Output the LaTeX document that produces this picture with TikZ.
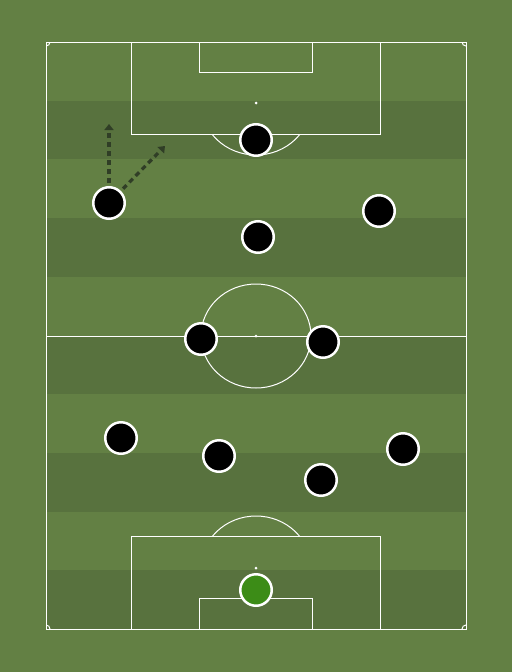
\documentclass[tikz,border=0pt]{standalone}
\usetikzlibrary{arrows.meta}
\definecolor{grasslight}{RGB}{99,128,68}
\definecolor{grassdark}{RGB}{88,114,62}
\definecolor{keeper}{RGB}{60,140,23}
\definecolor{runline}{RGB}{48,62,38}
\tikzstyle{pitchline} = [draw=white, line width=1pt]
\tikzstyle{spot} = [fill=white]
\tikzstyle{player} = [circle, fill=black, draw=white, line width=2.5pt, minimum size=31.5pt, inner sep=0pt]
\tikzstyle{goalie} = [player, fill=keeper]
\tikzstyle{run} = [line width=3.3pt, draw=runline, dash pattern=on 5pt off 4pt, shorten <=3pt, -{Triangle[length=6pt, width=9pt]}]

\begin{document}
\begin{tikzpicture}[x=1pt, y=-1pt]
\useasboundingbox (0,0) rectangle (512,672);
% grass and stripes
\fill[grasslight] (0,0) rectangle (512,672);
\foreach \i in {1,3,5,7,9}
  \fill[grassdark] (46,{42+\i*58.7}) rectangle (466,{42+(\i+1)*58.7});

% markings
\draw[pitchline] (46,42) rectangle (466,629);
\draw[pitchline] (46,336) -- (466,336);
\draw[pitchline] (256,336) ellipse [x radius=55, y radius=52];
\fill[spot] (256,336) circle (1.5);

\draw[pitchline] (131,42) rectangle (380,134);
\draw[pitchline] (199,42) rectangle (312,72);
\fill[spot] (256,103) circle (1.5);
\begin{scope}
  \clip (46,134) rectangle (466,200);
  \draw[pitchline] (256,103) ellipse [x radius=55, y radius=52];
\end{scope}

\draw[pitchline] (131,536) rectangle (380,629);
\draw[pitchline] (199,598) rectangle (312,629);
\fill[spot] (256,568) circle (1.5);
\begin{scope}
  \clip (46,470) rectangle (466,536);
  \draw[pitchline] (256,568) ellipse [x radius=55, y radius=52];
\end{scope}

\begin{scope}
  \clip (46,42) rectangle (466,629);
  \foreach \cx/\cy in {46/42, 466/42, 46/629, 466/629}
    \draw[pitchline] (\cx,\cy) circle (4);
\end{scope}

% players
\node (gk) [goalie] at (256,590) {};
\node (lb) [player] at (121,438) {};
\node (lcb) [player] at (219,456) {};
\node (rcb) [player] at (321,480) {};
\node (rb) [player] at (403,449) {};
\node (lcm) [player] at (201,339) {};
\node (rcm) [player] at (323,342) {};
\node (am) [player] at (258,237) {};
\node (lw) [player] at (109,203) {};
\node (rw) [player] at (379,211) {};
\node (st) [player] at (256,140) {};

% runs
\coordinate (runup) at (109,124);
\coordinate (runin) at (165,146);
\draw [run] (lw) -- (runup);
\draw [run] (lw) -- (runin);
\end{tikzpicture}
\end{document}
